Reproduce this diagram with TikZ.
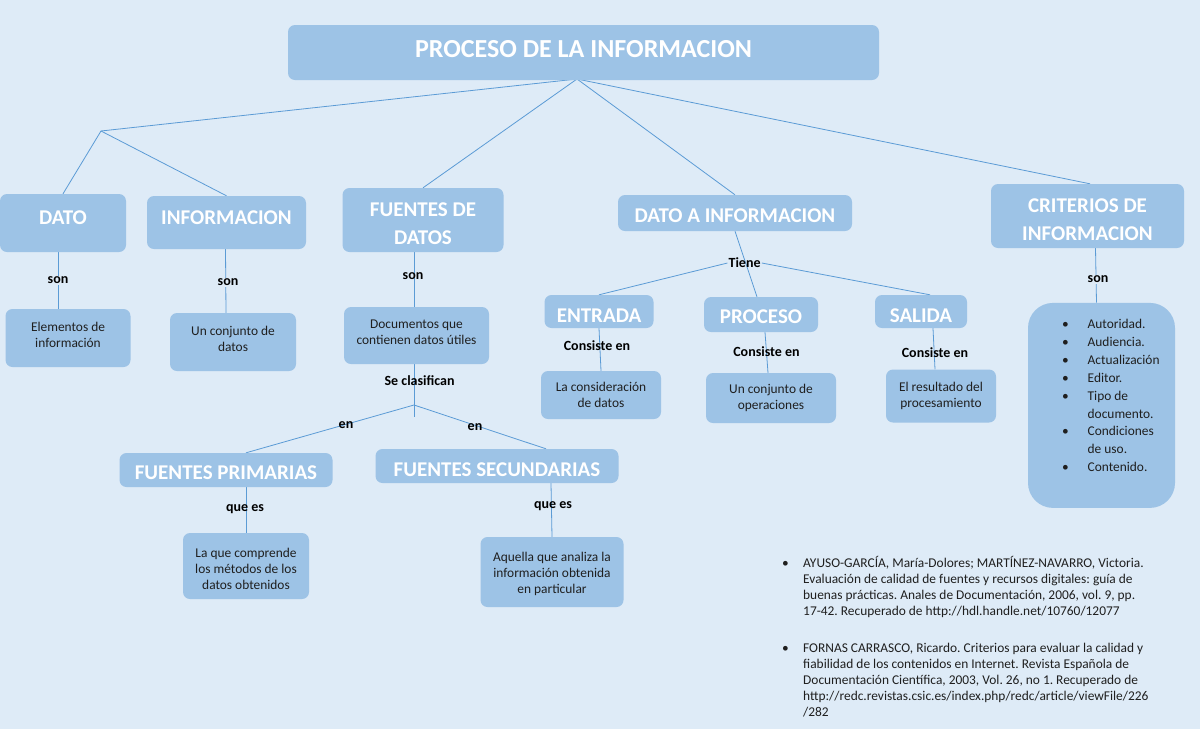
\documentclass[tikz,border=0pt]{standalone}
\usepackage{fontspec}
\setmainfont{Carlito}
\frenchspacing
\definecolor{azulfondo}{RGB}{222,235,247}
\definecolor{azulcaja}{RGB}{157,195,230}
\definecolor{azullinea}{RGB}{91,155,213}
\pgfdeclarelayer{fondo}
\pgfdeclarelayer{lineas}
\pgfsetlayers{fondo,lineas,main}
\newcommand{\punto}[1]{\makebox[25.5pt][l]{\textbullet}#1}
\newcommand{\sigue}[1]{\hspace*{25.5pt}#1}
\newcommand{\mover}[2]{\raisebox{#1}[\height][\depth]{#2}}
\begin{document}
\begin{tikzpicture}[x=1pt,y=-1pt,
	caja/.style={fill=azulcaja,rounded corners=7pt,inner sep=0pt,align=center},
	tam/.style 2 args={minimum width=#1pt,minimum height=#2pt},
	titulo/.style={caja,text=white,font=\bfseries\fontsize{21}{28}\selectfont},
	texto/.style={caja,text=black!88,font=\fontsize{13.4}{16}\selectfont},
	enlace/.style={draw=azullinea,line width=0.8pt},
	rotulo/.style={font=\bfseries\fontsize{14}{16}\selectfont,inner sep=1pt},
	hueco/.style={rotulo,fill=azulfondo}]
	\begin{pgfonlayer}{fondo}
		\fill[azulfondo] (0,0) rectangle (1200,729);
	\end{pgfonlayer}
	\useasboundingbox (0,0) rectangle (1200,729);
	
	% cajas principales
	\node[caja,tam={591}{55},text=white,font=\bfseries\fontsize{26}{30}\selectfont] (proceso) at (583.5,52.5) {\mover{3.5pt}{PROCESO DE LA INFORMACION}};
	\node[titulo,tam={126}{58}] (dato) at (63,223) {\mover{5pt}{DATO}};
	\node[titulo,tam={159}{53}] (informacion) at (226.5,222.5) {\mover{5pt}{INFORMACION}};
	\node[titulo,tam={161}{64}] (fuentes) at (423,220) {\mover{-4pt}{FUENTES DE}\\\mover{-4pt}{DATOS}};
	\node[titulo,tam={234}{36}] (datoinfo) at (735,213) {\mover{-3pt}{DATO A INFORMACION}};
	\node[titulo,tam={193}{64}] (criterios) at (1087.5,216) {\mover{-4pt}{CRITERIOS DE}\\\mover{-4pt}{INFORMACION}};
	\node[titulo,tam={109}{33}] (entrada) at (599,311.5) {\mover{-4.5pt}{ENTRADA}};
	\node[titulo,tam={114}{35}] (procesob) at (761,314.5) {\mover{-2.5pt}{PROCESO}};
	\node[titulo,tam={92}{33}] (salida) at (921,311.5) {\mover{-4.5pt}{SALIDA}};
	\node[titulo,tam={213}{34}] (primarias) at (226,470) {\mover{-3pt}{FUENTES PRIMARIAS}};
	\node[titulo,tam={243}{34}] (secundarias) at (497,466) {\mover{-4pt}{FUENTES SECUNDARIAS}};
	
	% cajas de texto
	\node[texto,tam={125}{58}] (elementos) at (68,338) {\mover{3pt}{Elementos de}\\\mover{3pt}{información}};
	\node[texto,tam={126}{58}] (conjunto) at (233,342) {\mover{3.5pt}{Un conjunto de}\\\mover{3.5pt}{datos}};
	\node[texto,tam={145}{57}] (documentos) at (416.5,335.5) {\mover{3pt}{Documentos que}\\\mover{3pt}{contienen datos útiles}};
	\node[texto,tam={120}{48}] (consideracion) at (601,395) {La consideración\\de datos};
	\node[texto,tam={130}{50}] (operaciones) at (771,398) {Un conjunto de\\operaciones};
	\node[texto,tam={110}{53}] (resultado) at (941,396) {El resultado del\\procesamiento};
	\node[texto,tam={126}{66}] (comprende) at (246,566) {\mover{-2.5pt}{La que comprende}\\\mover{-2.5pt}{los métodos de los}\\\mover{-2.5pt}{datos obtenidos}};
	\node[texto,tam={143}{70}] (analiza) at (552,572) {\mover{-2pt}{Aquella que analiza la}\\\mover{-2pt}{información obtenida}\\\mover{-2pt}{en particular}};
	\node[caja,rounded corners=25pt,tam={147}{205}] (lista) at (1101.5,405.4) {};
	\node[texto,fill=none,align=left,anchor=west,font=\fontsize{13.4}{17.9}\selectfont] (items) at (1062,395.5)
		{\punto{Autoridad.}\\\punto{Audiencia.}\\\punto{Actualización}\\\punto{Editor.}\\\punto{Tipo de}\\\sigue{documento.}\\\punto{Condiciones}\\\sigue{de uso.}\\\punto{Contenido.}};
	
	% rotulos
	\node[hueco] (sondato) at (58,280) {son};
	\node[hueco] (soninfo) at (228,282) {son};
	\node[rotulo] (sonfuentes) at (413,276) {son};
	\node[rotulo] (clasifican) at (419.6,380.7) {Se clasifican};
	\node[rotulo] (enpri) at (346,425) {en};
	\node[rotulo] (ensec) at (475,426.7) {en};
	\node[rotulo] (quepri) at (245,509) {que es};
	\node[rotulo] (quesec) at (553,506) {que es};
	\node[rotulo] (tiene) at (744.6,263) {Tiene};
	\node[rotulo] (consentrada) at (597,346) {Consiste en};
	\node[rotulo] (consproceso) at (766.5,351.7) {Consiste en};
	\node[rotulo] (conssalida) at (935,352.7) {Consiste en};
	\node[hueco] (soncriterios) at (1098,279) {son};
	
	% referencias
	\node[align=left,anchor=west,inner sep=0pt,text=black!88,font=\fontsize{13.4}{16}\selectfont] (ref1) at (782,587)
		{\makebox[21pt][l]{\textbullet}AYUSO-GARCÍA, María-Dolores; MARTÍNEZ-NAVARRO, Victoria.\\
		\hspace*{21pt}Evaluación de calidad de fuentes y recursos digitales: guía de\\
		\hspace*{21pt}buenas prácticas. Anales de Documentación, 2006, vol. 9, pp.\\
		\hspace*{21pt}17-42. Recuperado de http://hdl.handle.net/10760/12077};
	\node[align=left,anchor=west,inner sep=0pt,text=black!88,font=\fontsize{13.4}{16}\selectfont] (ref2) at (782,680)
		{\makebox[21pt][l]{\textbullet}FORNAS CARRASCO, Ricardo. Criterios para evaluar la calidad y\\
		\hspace*{21pt}fiabilidad de los contenidos en Internet. Revista Española de\\
		\hspace*{21pt}Documentación Científica, 2003, Vol. 26, no 1. Recuperado de\\
		\hspace*{21pt}http://redc.revistas.csic.es/index.php/redc/article/viewFile/226\\
		\hspace*{21pt}/282};
	
	% conectores
	\begin{pgfonlayer}{lineas}
		\coordinate (centro) at (577,79);
		\coordinate (ramal) at (101,131);
		\coordinate (cruce) at (414,405);
		\coordinate (tope) at (414,417);
		\draw[enlace] (centro) -- (ramal) -- (dato.north);
		\draw[enlace] (ramal) -- (informacion.north);
		\draw[enlace] (centro) -- (fuentes.north);
		\draw[enlace] (centro) -- (datoinfo.north);
		\draw[enlace] (centro) -- ([xshift=2.5pt]criterios.north);
		\draw[enlace] ([xshift=-5pt]dato.south) -- ([xshift=-10pt]elementos.north);
		\draw[enlace] ([xshift=-1pt]informacion.south) -- ([xshift=-7pt]conjunto.north);
		\draw[enlace] ([xshift=-9pt]fuentes.south) -- ([xshift=-2.5pt]documentos.north);
		\draw[enlace] ([xshift=-2.5pt]documentos.south) -- (tope);
		\draw[enlace] ([xshift=20pt]primarias.north) -- (cruce) -- ([xshift=49pt]secundarias.north);
		\draw[enlace] ([xshift=20pt]primarias.south) -- (comprende.north);
		\draw[enlace] ([xshift=54pt]secundarias.south) -- (analiza.north);
		\draw[enlace] (datoinfo.south) -- ([xshift=-4pt]procesob.north);
		\draw[enlace] (tiene.west) -- (entrada.north);
		\draw[enlace] (tiene.east) -- ([xshift=9pt]salida.north);
		\draw[enlace] (entrada.south) -- (consideracion.north);
		\draw[enlace] ([xshift=4pt]procesob.south) -- ([xshift=-3pt]operaciones.north);
		\draw[enlace] ([xshift=12pt]salida.south) -- ([xshift=-6pt]resultado.north);
		\draw[enlace] ([xshift=8pt]criterios.south) -- ([xshift=-5pt]lista.north);
	\end{pgfonlayer}
\end{tikzpicture}
\end{document}
